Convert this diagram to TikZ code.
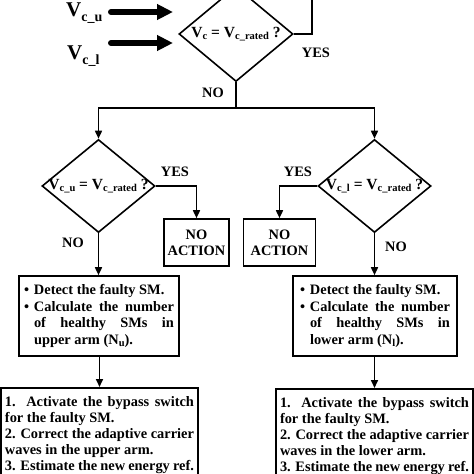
\documentclass[tikz,border=0pt]{standalone}
\usepackage{fontspec}
\setmainfont{Liberation Serif}
\usetikzlibrary{shapes.geometric,arrows.meta}
\newcommand{\mysub}[1]{\raisebox{-0.3ex}{\fontsize{10.5}{10.5}\selectfont #1}}
\newcommand{\bigsub}[1]{\raisebox{-5pt}{\fontsize{14}{14}\selectfont #1}}
\newcommand{\itm}{\hangindent=10pt\hangafter=1\noindent\makebox[10pt][l]{\textbullet}}
\begin{document}
\begin{tikzpicture}[x=1pt,y=-1pt,
  every node/.style={font=\fontsize{14.4}{16}\selectfont\bfseries},
  dec/.style={diamond,draw,line width=1.6pt,inner sep=0pt,font=\fontsize{15.5}{16}\selectfont\bfseries},
  boxn/.style={rectangle,draw,line width=1.6pt,inner xsep=4pt,inner ysep=3pt},
  lbl/.style={inner sep=0pt},
  conn/.style={line width=1.6pt},
  arr/.style={line width=1.6pt,-{Triangle[length=8pt,width=7pt]}},
  bigarrow/.style={line width=6pt,line cap=round,-{Triangle[length=16pt,width=15pt]}}]
\useasboundingbox (0,0) rectangle (474,474);
\clip (0,0) rectangle (474,474);

% input labels and arrows
\node[lbl,anchor=base west,font=\fontsize{21}{21}\selectfont\bfseries] (vu) at (66,16) {V\bigsub{c\_u}};
\node[lbl,anchor=base west,font=\fontsize{21}{21}\selectfont\bfseries] (vl) at (67,59) {V\bigsub{c\_l}};
\coordinate (a1s) at (111,12);
\coordinate (a1e) at (173,12);
\coordinate (a2s) at (111,43);
\coordinate (a2e) at (173,43);
\draw[bigarrow] (a1s) -- (a1e);
\draw[bigarrow] (a2s) -- (a2e);

% decisions
\node[dec,minimum width=114pt,minimum height=95pt] (d0) at (236,34) {\makebox[0pt]{V\mysub{c} = V\mysub{c\_rated} ?}};
\node[dec,minimum width=113pt,minimum height=93pt] (d1) at (98.5,186) {\makebox[0pt]{V\mysub{c\_u} = V\mysub{c\_rated} ?}};
\node[dec,minimum width=113pt,minimum height=93pt] (d2) at (374.5,186) {\makebox[0pt]{V\mysub{c\_l} = V\mysub{c\_rated} ?}};

% top connections
\coordinate (up) at (312,-10);
\coordinate (j) at (236,108);
\draw[conn] (d0.east) -| (up);
\draw[conn] (d0.south) -- (j);
\draw[arr] (j) -| (d1.north);
\draw[arr] (j) -| (d2.north);
\node[lbl] (yes0) at (316,53) {YES};
\node[lbl] (no0) at (213,93) {NO};

% no action boxes
\node[boxn,minimum width=65pt,minimum height=47pt,align=center,inner xsep=2pt] (na1) at (196.5,242.5) {NO\\ACTION};
\node[boxn,minimum width=72pt,minimum height=47pt,align=center,inner xsep=2pt] (na2) at (279.5,242.5) {NO\\ACTION};
\draw[arr] (d1.east) -| (na1.north);
\draw[arr] (d2.west) -| (na2.north);
\node[lbl] (yes1) at (175,172) {YES};
\node[lbl] (yes2) at (298,172) {YES};
\node[lbl] (no1) at (73,243) {NO};
\node[lbl] (no2) at (396,247) {NO};

% detection boxes
\node[boxn,minimum width=160pt,minimum height=80pt,inner xsep=5pt] (m1) at (99,316)
 {\parbox{150pt}{\fontsize{14.4}{16.5}\selectfont\bfseries
 \itm Detect the faulty SM.\par
 \itm Calculate the number\linebreak of healthy SMs in\linebreak upper arm (N\mysub{u}).}};
\node[boxn,minimum width=164pt,minimum height=80pt,inner xsep=7pt] (m2) at (375,316)
 {\parbox{150pt}{\fontsize{14.4}{16.5}\selectfont\bfseries
 \itm Detect the faulty SM.\par
 \itm Calculate the number\linebreak of healthy SMs in\linebreak lower arm (N\mysub{l}).}};
\draw[arr] (d1.south) -- (d1.south |- m1.north);
\draw[arr] (d2.south) -- (d2.south |- m2.north);

% action boxes
\node[boxn,anchor=north,inner ysep=9pt] (b1) at (99.5,387)
 {\parbox[c][100pt][t]{189pt}{\fontsize{14.4}{16}\selectfont\bfseries
 \noindent 1. Activate the bypass switch\linebreak for the faulty SM.\par
 \noindent 2. Correct the adaptive carrier\linebreak waves in the upper arm.\par
 \noindent 3. Estimate the new energy ref.}};
\node[boxn,anchor=north,inner ysep=9pt] (b2) at (374.5,388)
 {\parbox[c][100pt][t]{189pt}{\fontsize{14.4}{16}\selectfont\bfseries
 \noindent 1. Activate the bypass switch\linebreak for the faulty SM.\par
 \noindent 2. Correct the adaptive carrier\linebreak waves in the lower arm.\par
 \noindent 3. Estimate the new energy ref.}};
\draw[arr] (m1.south -| b1.north) -- (b1.north);
\draw[arr] (m2.south -| b2.north) -- (b2.north);
\end{tikzpicture}
\end{document}
